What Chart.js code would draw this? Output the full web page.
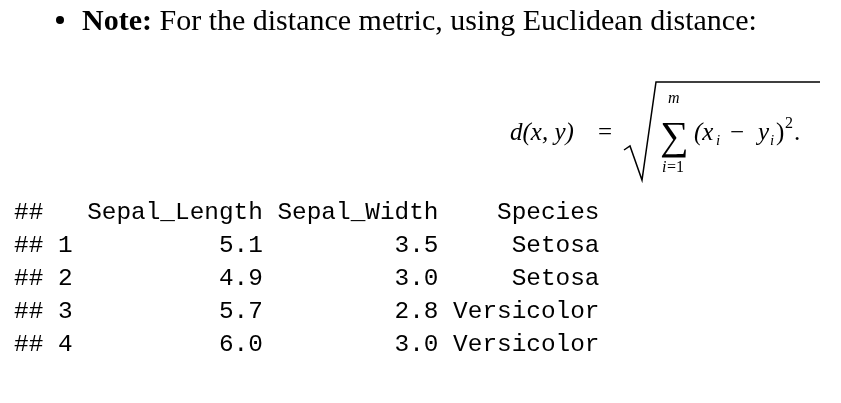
<!DOCTYPE html>
<html>
<head>
<meta charset="utf-8">
<script src="https://cdn.jsdelivr.net/npm/chart.js@4"></script>
<style>
  body { margin: 0; background: #fff; }
  #wrap { width: 841px; height: 403px; }
</style>
</head>
<body>
<div id="wrap"><canvas id="c"></canvas></div>
<script>
// Table data
const rowIds = ["1", "2", "3", "4"];
const sepalLength = ["5.1", "4.9", "5.7", "6.0"];
const sepalWidth = ["3.5", "3.0", "2.8", "3.0"];
const species = ["Setosa", "Setosa", "Versicolor", "Versicolor"];
const headers = ["Sepal_Length", "Sepal_Width", "Species"];
const colWidths = [4, 13, 12, 11];

function pad(s, n) { return String(s).padStart(n, " "); }

// Build text lines of the R-style printout
const lines = ["##" + pad("", colWidths[0] - 2) + pad(headers[0], colWidths[1]) + pad(headers[1], colWidths[2]) + pad(headers[2], colWidths[3])];
rowIds.forEach((id, i) => {
    lines.push(("## " + id).padEnd(colWidths[0]) + pad(sepalLength[i], colWidths[1]) + pad(sepalWidth[i], colWidths[2]) + pad(species[i], colWidths[3]));
});

const textPlugin = {
    id: "textPlugin",
    afterDraw(chart) {
        const g = chart.ctx;
        g.save();
        g.fillStyle = "#000";
        g.strokeStyle = "#000";
        // Note line
        g.beginPath(); g.arc(60, 20, 4, 0, Math.PI * 2); g.fill();
        g.font = "bold 30px 'Liberation Serif'";
        g.fillText("Note:", 82, 30);
        const w = g.measureText("Note: ").width;
        g.font = "30px 'Liberation Serif'";
        g.fillText("For the distance metric, using Euclidean distance:", 82 + w, 30);

        // Formula
        g.font = "italic 25px 'Liberation Serif'";
        g.fillText("d(x, y)", 510, 140);
        g.font = "25px 'Liberation Serif'";
        g.fillText("=", 598, 140);
        g.lineWidth = 1.5;
        g.beginPath();
        g.moveTo(624, 150); g.lineTo(630, 146); g.lineTo(642, 180);
        g.lineTo(656, 82); g.lineTo(820, 82);
        g.stroke();
        g.font = "40px 'Liberation Serif'";
        g.fillText("\u2211", 660, 149);
        g.font = "italic 16px 'Liberation Serif'";
        g.fillText("m", 668, 103);
        g.fillText("i", 662, 172);
        g.font = "16px 'Liberation Serif'";
        g.fillText("=1", 667, 172);
        g.font = "italic 25px 'Liberation Serif'";
        g.fillText("(x", 694, 140);
        g.font = "italic 15px 'Liberation Serif'";
        g.fillText("i", 716, 145);
        g.font = "25px 'Liberation Serif'";
        g.fillText("\u2212", 730, 140);
        g.font = "italic 25px 'Liberation Serif'";
        g.fillText("y", 758, 140);
        g.font = "italic 15px 'Liberation Serif'";
        g.fillText("i", 770, 145);
        g.font = "25px 'Liberation Serif'";
        g.fillText(")", 776, 140);
        g.font = "16px 'Liberation Serif'";
        g.fillText("2", 785, 128);
        g.font = "25px 'Liberation Serif'";
        g.fillText(".", 794, 140);

        // Table
        g.font = "24.4px 'Liberation Mono'";
        lines.forEach((ln, i) => g.fillText(ln, 14, 219 + i * 33));
        g.restore();
    }
};

new Chart(document.getElementById("c"), {
    type: "bar",
    data: { labels: rowIds, datasets: [{ data: [], backgroundColor: "transparent" }] },
    options: {
        responsive: true,
        maintainAspectRatio: false,
        animation: false,
        scales: { x: { display: false }, y: { display: false } },
        plugins: { legend: { display: false }, tooltip: { enabled: false } }
    },
    plugins: [textPlugin]
});
</script>
</body>
</html>
